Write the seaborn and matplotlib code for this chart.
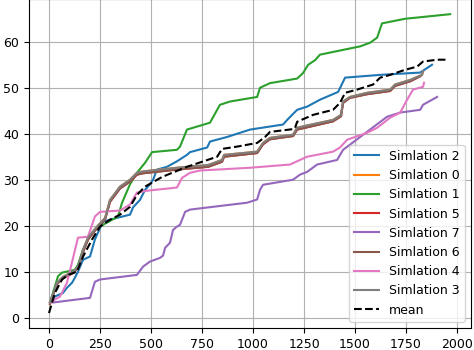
import matplotlib
matplotlib.use("Agg")
import matplotlib.pyplot as plt
import seaborn as sns
import pandas as pd

# Simulation 2 (blue)
sim2_x = [5, 29, 69, 88, 113, 127, 142, 167, 201, 225, 240, 265, 333, 397, 412, 446, 471, 495, 510, 529, 578, 627, 676, 691, 775, 789, 873, 985, 1147, 1167, 1216, 1265, 1328, 1417, 1451, 1623, 1819, 1853, 1877]
sim2_y = [3.3, 4.6, 5.4, 6.5, 7.6, 8.7, 10.0, 12.6, 13.3, 17.0, 18.5, 20.9, 21.7, 22.4, 24.0, 25.6, 27.8, 29.0, 30.0, 32.2, 32.8, 34.0, 35.4, 36.0, 37.0, 38.3, 39.3, 40.9, 42.0, 43.0, 45.2, 45.9, 47.4, 49.1, 52.2, 52.8, 53.3, 54.3, 55.0]

# Simulation 1 (green)
sim1_x = [5, 44, 64, 127, 142, 167, 191, 225, 265, 338, 358, 397, 431, 471, 505, 627, 642, 676, 789, 824, 838, 887, 1020, 1034, 1083, 1216, 1245, 1270, 1304, 1328, 1525, 1574, 1608, 1632, 1745, 1966]
sim1_y = [3.3, 9.0, 9.8, 10.4, 11.5, 14.8, 17.0, 19.0, 20.2, 22.0, 25.0, 29.0, 31.5, 33.7, 36.0, 36.5, 37.2, 40.9, 42.4, 45.2, 46.3, 47.0, 48.0, 50.0, 51.0, 52.0, 53.2, 55.0, 56.0, 57.2, 59.0, 59.8, 60.9, 64.0, 65.0, 66.0]

# Simulation 3 (gray)
sim3_x = [5, 39, 69, 118, 142, 167, 191, 235, 275, 299, 348, 397, 431, 461, 627, 780, 848, 858, 1020, 1049, 1083, 1196, 1216, 1265, 1392, 1431, 1441, 1475, 1559, 1672, 1696, 1770, 1828, 1833]
sim3_y = [3.3, 7.6, 8.9, 10.0, 11.1, 14.8, 17.4, 19.8, 21.7, 25.6, 28.5, 30.0, 31.5, 31.8, 32.6, 33.2, 34.3, 35.4, 36.1, 38.0, 39.1, 39.8, 41.3, 41.8, 43.0, 44.1, 47.0, 48.0, 48.9, 49.6, 50.7, 51.7, 52.8, 53.5]

# Simulation 6 (brown)
sim6_x = [5, 39, 69, 118, 142, 167, 191, 235, 275, 299, 348, 397, 431, 461, 627, 780, 848, 858, 1020, 1049, 1083, 1196, 1216, 1265, 1392, 1431, 1441, 1475, 1559, 1672, 1696, 1770, 1819]
sim6_y = [3.0, 7.3, 8.6, 9.7, 10.8, 14.3, 17.0, 19.5, 21.4, 25.2, 28.1, 29.6, 31.1, 31.4, 32.2, 32.8, 33.9, 35.0, 35.8, 37.7, 38.8, 39.5, 40.9, 41.4, 42.7, 43.8, 46.7, 47.8, 48.6, 49.3, 50.4, 51.4, 52.5]

# Simulation 0 (orange) and Simulation 5 (red), hidden under later lines
sim0_x = list(sim3_x)
sim0_y = list(sim3_y)
sim5_x = list(sim6_x)
sim5_y = list(sim6_y)

# Simulation 4 (pink)
sim4_x = [5, 54, 88, 118, 142, 191, 225, 250, 348, 397, 431, 480, 627, 652, 691, 740, 985, 1181, 1265, 1392, 1426, 1461, 1559, 1608, 1672, 1721, 1755, 1784, 1833, 1838]
sim4_y = [3.3, 4.6, 7.6, 13.0, 17.4, 17.6, 22.0, 23.0, 23.3, 24.6, 27.2, 27.6, 28.3, 30.4, 31.5, 32.0, 32.6, 33.3, 35.0, 36.1, 37.0, 38.7, 40.2, 41.3, 43.5, 44.6, 47.4, 49.6, 50.2, 51.1]

# Simulation 7 (purple)
sim7_x = [20, 201, 225, 250, 431, 461, 495, 544, 559, 569, 578, 593, 608, 627, 642, 667, 691, 971, 1020, 1034, 1049, 1196, 1230, 1265, 1314, 1412, 1441, 1525, 1657, 1721, 1819, 1833, 1902]
sim7_y = [3.3, 4.3, 7.8, 8.3, 9.3, 11.1, 12.2, 13.0, 13.5, 15.2, 15.6, 16.3, 19.1, 19.8, 20.2, 23.0, 23.5, 25.0, 25.7, 27.8, 28.9, 30.0, 31.1, 31.7, 33.3, 34.3, 36.5, 39.3, 43.7, 44.6, 45.2, 46.3, 48.0]

# Mean (black dashed)
mean_x = [0, 29, 64, 93, 137, 167, 211, 250, 299, 348, 397, 431, 471, 554, 676, 824, 848, 922, 1020, 1059, 1083, 1196, 1206, 1216, 1294, 1392, 1426, 1451, 1510, 1588, 1623, 1672, 1745, 1804, 1833, 1902, 1951]
mean_y = [1.0, 5.4, 8.3, 9.3, 10.0, 13.3, 17.0, 19.8, 21.3, 22.4, 24.1, 26.7, 28.5, 30.6, 32.8, 35.0, 36.7, 37.2, 38.0, 39.3, 40.4, 41.0, 41.3, 42.6, 44.1, 45.2, 46.7, 48.9, 49.6, 50.7, 52.2, 52.8, 53.9, 54.6, 55.7, 56.1, 56.1]

labels = ["Simlation 2", "Simlation 0", "Simlation 1", "Simlation 5",
          "Simlation 7", "Simlation 6", "Simlation 4", "Simlation 3"]
series = [(sim2_x, sim2_y), (sim0_x, sim0_y), (sim1_x, sim1_y), (sim5_x, sim5_y),
          (sim7_x, sim7_y), (sim6_x, sim6_y), (sim4_x, sim4_y), (sim3_x, sim3_y)]

rows = []
for lab, (xs, ys) in zip(labels, series):
    for x, y in zip(xs, ys):
        rows.append({"x": x, "y": y, "sim": lab})
df = pd.DataFrame(rows)
mean_df = pd.DataFrame({"x": mean_x, "y": mean_y})

plt.rcParams["font.family"] = ["DejaVu Sans"]
plt.rcParams["font.size"] = 9

fig = plt.figure(figsize=(4.74, 3.5), dpi=100)
ax = fig.add_axes([29 / 474, 22 / 350, 442 / 474, 329 / 350])

palette = dict(zip(labels, sns.color_palette("tab10", 8)))
sns.lineplot(data=df, x="x", y="y", hue="sim", hue_order=labels, palette=palette,
             estimator=None, sort=False, units="sim", linewidth=1.5, ax=ax)
sns.lineplot(data=mean_df, x="x", y="y", color="black", linestyle="--",
             linewidth=1.5, label="mean", ax=ax)

ax.set_xlim(-98, 2068)
ax.set_ylim(-2.25, 69.3)
ax.set_xticks([0, 250, 500, 750, 1000, 1250, 1500, 1750, 2000])
ax.set_yticks([0, 10, 20, 30, 40, 50, 60])
ax.grid(True, color="#b0b0b0", linewidth=0.8)
ax.set_axisbelow(True)
ax.set_xlabel("")
ax.set_ylabel("")
ax.tick_params(labelsize=9)
ax.legend(loc="lower right", fontsize=9)

fig.savefig("out.png", dpi=100)
